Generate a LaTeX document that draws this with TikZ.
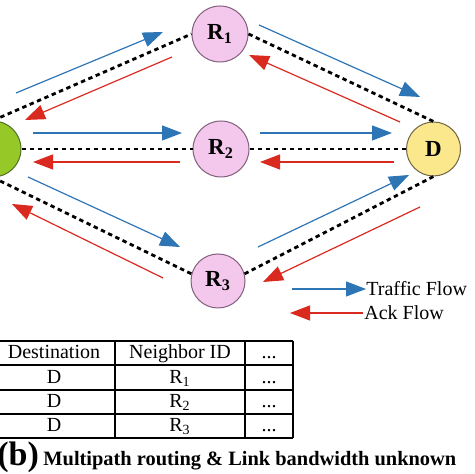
\documentclass[tikz,border=0pt]{standalone}
\usepackage{fontspec}
\setmainfont{Liberation Serif}
\usetikzlibrary{arrows.meta}

\definecolor{flowblue}{RGB}{46,117,182}
\definecolor{flowred}{RGB}{218,42,32}
\definecolor{srcfill}{RGB}{150,200,40}
\definecolor{srcline}{RGB}{80,110,40}
\definecolor{routerfill}{RGB}{243,200,236}
\definecolor{routerline}{RGB}{130,95,125}
\definecolor{dstfill}{RGB}{252,232,140}
\definecolor{dstline}{RGB}{110,100,70}

\tikzset{
	router/.style={circle,draw=routerline,fill=routerfill,line width=0.5pt,minimum size=28pt,inner sep=0pt,font=\fontsize{11.5}{13}\selectfont\bfseries},
	link/.style={black,line width=1.4pt,dash pattern=on 2.2pt off 1.8pt},
	traffic/.style={flowblue,line width=0.6pt,-{Triangle[length=10pt,width=7.5pt]}},
	ack/.style={flowred,line width=0.6pt,-{Triangle[length=10pt,width=7.5pt]}},
	cell/.style={anchor=base,inner sep=0pt,font=\fontsize{10}{12}\selectfont},
	legendtext/.style={anchor=west,inner sep=0pt,font=\fontsize{10}{12}\selectfont}
}

\begin{document}
\begin{tikzpicture}[x=0.5pt,y=0.5pt]
			\clip (0,0) rectangle (474,474);
			% nodes
			\node[router,draw=srcline,fill=srcfill] (S) at (-7,325) {};
			\node[router] (R1) at (220,440) {R\textsubscript{1}};
			\node[router] (R2) at (221,325) {R\textsubscript{2}};
			\node[router,minimum size=27pt] (R3) at (218,193) {R\textsubscript{3}};
			\node[router,draw=dstline,fill=dstfill,minimum size=27pt] (D) at (433.5,325) {D};
			% links
			\draw[link] (S.north) -- (R1.west);
			\draw[link] (R1.east) -- (D.north);
			\draw[link] (S.east) -- (R2.west);
			\draw[link] (R2.east) -- (D.west);
			\draw[link] (S.south) -- (R3.165);
			\draw[link] (R3.15) -- (D.south);
			% flows
			\draw[traffic] (16,381) -- (163,442);
			\draw[ack] (172,417) -- (25,354);
			\draw[traffic] (33,341) -- (182,341);
			\draw[ack] (180,312) -- (33,312);
			\draw[traffic] (28,297) -- (180,227);
			\draw[ack] (163,196) -- (12,270);
			\draw[traffic] (259,449) -- (420,377);
			\draw[ack] (400,352) -- (249,419);
			\draw[traffic] (260,341) -- (392,341);
			\draw[ack] (394,312) -- (260,312);
			\draw[traffic] (258,227) -- (409,299);
			\draw[ack] (420,267) -- (263,192);
			% legend
			\coordinate (tfa) at (292,185);
			\coordinate (afa) at (363,161);
			\node[legendtext] (tf) at (366,185) {Traffic Flow};
			\node[legendtext] (af) at (364,161) {Ack Flow};
			\draw[traffic] (tfa) -- (tf.west);
			\draw[ack] (afa) -- (290,161);
			% table
			\draw[line width=0.8pt] (-7,133) -- (293,133);
			\draw[line width=0.8pt] (-7,109) -- (293,109);
			\draw[line width=0.8pt] (-7,84) -- (293,84);
			\draw[line width=0.8pt] (-7,60) -- (293,60);
			\draw[line width=0.8pt] (-7,36) -- (293,36);
			\draw[line width=0.8pt] (115,36) -- (115,133);
			\draw[line width=0.8pt] (245,36) -- (245,133);
			\draw[line width=0.8pt] (293,36) -- (293,133);
			\node[cell] (h1) at (54,115) {Destination};
			\node[cell] (h2) at (180,115) {Neighbor ID};
			\node[cell] (h3) at (269,115) {...};
			\node[cell] (d1) at (54,90.5) {D};
			\node[cell] (n1) at (180,90.5) {R\textsubscript{1}};
			\node[cell] (e1) at (269,90.5) {...};
			\node[cell] (d2) at (54,66) {D};
			\node[cell] (n2) at (180,66) {R\textsubscript{2}};
			\node[cell] (e2) at (269,66) {...};
			\node[cell] (d3) at (54,42) {D};
			\node[cell] (n3) at (180,42) {R\textsubscript{3}};
			\node[cell] (e3) at (269,42) {...};
			% caption
			\node[anchor=base west,inner sep=0pt,font=\fontsize{17}{20}\selectfont\bfseries] (lbl) at (-3,9) {(b)};
			\node[anchor=base west,inner sep=0pt,font=\fontsize{10.2}{12}\selectfont\bfseries] (cap) at (43,9) {Multipath routing \& Link bandwidth unknown};
		\end{tikzpicture}
\end{document}
